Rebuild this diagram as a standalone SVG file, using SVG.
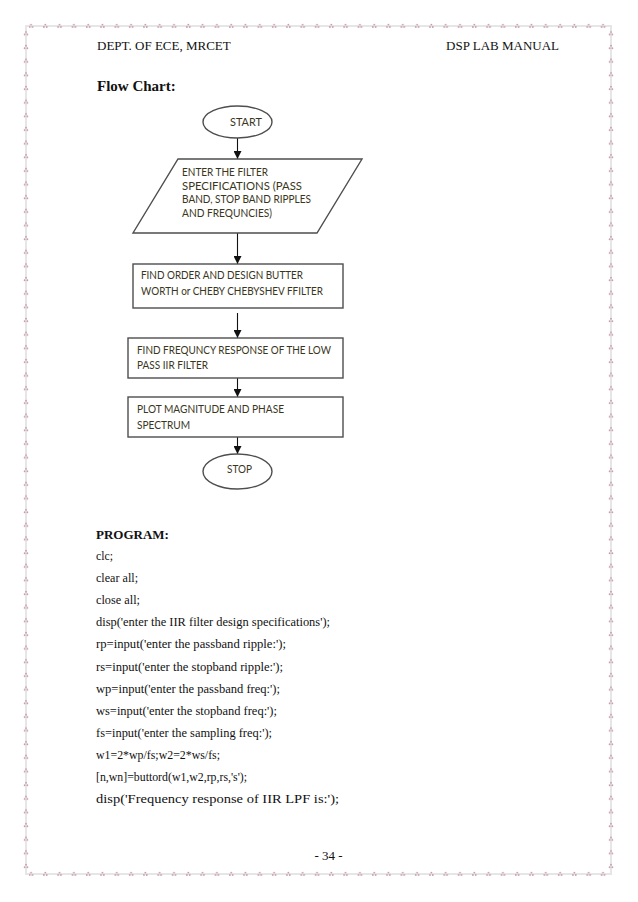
<svg xmlns="http://www.w3.org/2000/svg" xmlns:xlink="http://www.w3.org/1999/xlink" width="638" height="902" viewBox="0 0 638 902">
<style>
.hdr{font-family:"Liberation Serif","Times New Roman",serif;font-size:13px;fill:#111}
.ttl{font-family:"Liberation Serif","Times New Roman",serif;font-size:15px;font-weight:bold;fill:#111}
.prg{font-family:"Liberation Serif","Times New Roman",serif;font-size:12.5px;fill:#111}
.prgb{font-family:"Liberation Serif","Times New Roman",serif;font-size:13px;font-weight:bold;fill:#111}
.fc{font-family:Lato,"Open Sans",sans-serif;font-size:10.5px;fill:#3a361c}
.shape{fill:#fff;stroke:#4e4e4e;stroke-width:1.4}
.conn{stroke:#111;stroke-width:1.1;fill:none}
.motif{fill:#c69aa8}
</style>
<defs>
<marker id="ah" markerUnits="userSpaceOnUse" markerWidth="8" markerHeight="8" refX="8" refY="4" orient="auto">
<path d="M0,0 L8,4 L0,8 z" fill="#111"/>
</marker>
<g id="m">
<circle cx="0" cy="-1.4" r="0.9"/>
<circle cx="-1.4" cy="1" r="0.9"/>
<circle cx="1.4" cy="1" r="0.9"/>
</g>
<pattern id="pTop" patternUnits="userSpaceOnUse" x="24" y="21" width="14.3" height="10">
<use xlink:href="#m" class="motif" x="7" y="5"/>
</pattern>
<pattern id="pBot" patternUnits="userSpaceOnUse" x="24" y="869" width="14.3" height="10">
<use xlink:href="#m" class="motif" x="7" y="5"/>
</pattern>
<pattern id="pLeft" patternUnits="userSpaceOnUse" x="21" y="26.5" width="10" height="13.65">
<use xlink:href="#m" class="motif" x="5" y="7"/>
</pattern>
<pattern id="pRight" patternUnits="userSpaceOnUse" x="606" y="26.5" width="10" height="13.65">
<use xlink:href="#m" class="motif" x="5" y="7"/>
</pattern>
</defs>
<rect x="0" y="0" width="638" height="902" fill="#fff"/>
<g id="border">
<rect x="26" y="26" width="585" height="848" fill="none" stroke="#e6e6e6" stroke-width="2"/>
<rect x="29" y="21" width="580" height="10" fill="url(#pTop)"/>
<rect x="29" y="869" width="580" height="10" fill="url(#pBot)"/>
<rect x="21" y="29" width="10" height="842" fill="url(#pLeft)"/>
<rect x="606" y="29" width="10" height="842" fill="url(#pRight)"/>
</g>
<g id="header">
<text class="hdr" x="97" y="50">DEPT. OF ECE, MRCET</text>
<text class="hdr" x="559" y="50" text-anchor="end">DSP LAB MANUAL</text>
<text class="ttl" x="97" y="91">Flow Chart:</text>
</g>
<g id="connectors">
<line class="conn" x1="237.5" y1="138" x2="237.5" y2="159" marker-end="url(#ah)"/>
<line class="conn" x1="237.5" y1="233" x2="237.5" y2="264" marker-end="url(#ah)"/>
<line class="conn" x1="237.5" y1="313" x2="237.5" y2="338" marker-end="url(#ah)"/>
<line class="conn" x1="237.5" y1="378" x2="237.5" y2="397" marker-end="url(#ah)"/>
<line class="conn" x1="237.5" y1="437" x2="237.5" y2="454" marker-end="url(#ah)"/>
</g>
<g id="start">
<ellipse class="shape" cx="237.5" cy="122" rx="34.5" ry="16"/>
<text class="fc" x="230" y="126" textLength="32" lengthAdjust="spacingAndGlyphs">START</text>
</g>
<g id="input">
<polygon class="shape" points="178,159 362,159 317,233 133,233"/>
<text class="fc" x="182" y="176" textLength="86" lengthAdjust="spacingAndGlyphs">ENTER THE FILTER</text>
<text class="fc" x="182" y="189.5" textLength="120" lengthAdjust="spacingAndGlyphs">SPECIFICATIONS (PASS</text>
<text class="fc" x="182" y="203" textLength="129" lengthAdjust="spacingAndGlyphs">BAND, STOP BAND RIPPLES</text>
<text class="fc" x="182" y="217" textLength="90" lengthAdjust="spacingAndGlyphs">AND FREQUNCIES)</text>
</g>
<g id="design">
<rect class="shape" x="133" y="264" width="210" height="44"/>
<text class="fc" x="141" y="279" textLength="162" lengthAdjust="spacingAndGlyphs">FIND ORDER AND DESIGN BUTTER</text>
<text class="fc" x="141" y="295" textLength="182" lengthAdjust="spacingAndGlyphs">WORTH or CHEBY CHEBYSHEV FFILTER</text>
</g>
<g id="response">
<rect class="shape" x="128" y="338" width="215" height="40"/>
<text class="fc" x="137" y="354" textLength="194" lengthAdjust="spacingAndGlyphs">FIND FREQUNCY RESPONSE OF THE LOW</text>
<text class="fc" x="137" y="369" textLength="71" lengthAdjust="spacingAndGlyphs">PASS IIR FILTER</text>
</g>
<g id="plot">
<rect class="shape" x="128" y="397" width="215" height="40"/>
<text class="fc" x="137" y="413" textLength="147" lengthAdjust="spacingAndGlyphs">PLOT MAGNITUDE AND PHASE</text>
<text class="fc" x="137" y="429" textLength="53" lengthAdjust="spacingAndGlyphs">SPECTRUM</text>
</g>
<g id="stop">
<ellipse class="shape" cx="237.5" cy="471.5" rx="34.5" ry="17.5"/>
<text class="fc" x="227" y="473" textLength="25" lengthAdjust="spacingAndGlyphs">STOP</text>
</g>
<g id="program">
<text class="prgb" x="96" y="539">PROGRAM:</text>
<text class="prg" x="96" y="560" textLength="17" lengthAdjust="spacingAndGlyphs">clc;</text>
<text class="prg" x="96" y="582" textLength="42" lengthAdjust="spacingAndGlyphs">clear all;</text>
<text class="prg" x="96" y="604" textLength="44" lengthAdjust="spacingAndGlyphs">close all;</text>
<text class="prg" x="96" y="626" textLength="234" lengthAdjust="spacingAndGlyphs">disp('enter the IIR filter design specifications');</text>
<text class="prg" x="96" y="648" textLength="190" lengthAdjust="spacingAndGlyphs">rp=input('enter the passband ripple:');</text>
<text class="prg" x="96" y="671" textLength="187" lengthAdjust="spacingAndGlyphs">rs=input('enter the stopband ripple:');</text>
<text class="prg" x="96" y="693" textLength="184" lengthAdjust="spacingAndGlyphs">wp=input('enter the passband freq:');</text>
<text class="prg" x="96" y="715" textLength="181" lengthAdjust="spacingAndGlyphs">ws=input('enter the stopband freq:');</text>
<text class="prg" x="96" y="737" textLength="176" lengthAdjust="spacingAndGlyphs">fs=input('enter the sampling freq:');</text>
<text class="prg" x="96" y="759" textLength="124" lengthAdjust="spacingAndGlyphs">w1=2*wp/fs;w2=2*ws/fs;</text>
<text class="prg" x="96" y="781" textLength="151" lengthAdjust="spacingAndGlyphs">[n,wn]=buttord(w1,w2,rp,rs,'s');</text>
<text class="prg" x="96" y="803" textLength="243" lengthAdjust="spacingAndGlyphs">disp('Frequency response of IIR LPF is:');</text>
</g>
<g id="footer">
<text class="hdr" x="328.5" y="860" text-anchor="middle">- 34 -</text>
</g>
</svg>
